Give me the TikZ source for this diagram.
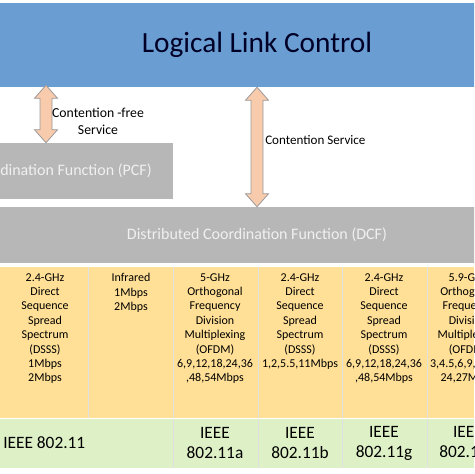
\documentclass[tikz,border=0pt]{standalone}
\usepackage{fontspec}
\setmainfont{Carlito}
\usetikzlibrary{positioning,calc}
\definecolor{llcblue}{RGB}{106,158,211}
\definecolor{cfgray}{RGB}{183,183,183}
\definecolor{phyyellow}{RGB}{255,224,150}
\definecolor{stdgreen}{RGB}{222,240,198}
\definecolor{svcpeach}{RGB}{248,203,173}
% fat double arrow between two named points (top, bottom)
\newcommand{\svcarrow}[2]{%
  \draw[svc] (#1) -- ++(11.5,13) -- ++(-5.5,0) -- ($(#2)+(6,-13)$) -- ++(5.5,0) -- (#2)
    -- ++(-11.5,-13) -- ++(5.5,0) -- ($(#1)+(-6,13)$) -- ++(-5.5,0) -- cycle;}

\begin{document}
\begin{tikzpicture}[x=0.75pt, y=-0.75pt,
          layer/.style={rectangle,inner sep=0pt,minimum height=42pt,fill=cfgray,text=white!94!black,font=\fontsize{12}{14}\selectfont},
          svc/.style={draw=gray!80,fill=svcpeach,line width=0.6pt,line join=miter},
          phy/.style={anchor=north,align=center,inner sep=0pt,font=\fontsize{9}{10.8}\selectfont},
          std/.style={align=center,inner sep=0pt,font=\fontsize{13}{15}\selectfont},
          sep/.style={draw=black!12,line width=0.5pt}]
        \useasboundingbox (0,0) rectangle (474,474);
        \clip (0,0) rectangle (474,474);

        \node[fill=llcblue,minimum width=420pt,minimum height=63pt,inner sep=0pt,text=black!85!blue,font=\fontsize{22}{26}\selectfont] (llc) at (257,45) {Logical Link Control};
        \node[layer,minimum width=196.5pt] (pcf) at (42,171) {Point Coordination Function (PCF)};
        \node[layer,minimum width=420pt] (dcf) at (257,235) {Distributed Coordination Function (DCF)};

        \coordinate (cfx) at (46,0);
        \coordinate (csx) at (257,0);
        \coordinate (cftop) at ($(llc.south -| cfx)+(0,-2)$);
        \coordinate (cfbot) at (pcf.north -| cfx);
        \coordinate (cstop) at (llc.south -| csx);
        \coordinate (csbot) at (dcf.north -| csx);
        \svcarrow{cftop}{cfbot}
        \svcarrow{cstop}{csbot}
        \node[align=center,inner sep=0pt,font=\fontsize{10.3}{12.8}\selectfont] (cfree) at (98,121) {Contention -free\\Service};
        \node[anchor=west,inner sep=0pt,font=\fontsize{9.8}{12}\selectfont] (csvc) at (265,140) {Contention Service};

        % physical layers
        \fill[phyyellow] (0,267) rectangle (474,418);
        \node[phy] (dsss) at (45,273) {2.4-GHz\\Direct\\Sequence\\Spread\\Spectrum\\(DSSS)\\1Mbps\\2Mbps};
        \node[phy] (ir) at (131,273) {Infrared\\1Mbps\\2Mbps};
        \node[phy] (ofdma) at (215,273) {5-GHz\\Orthogonal\\Frequency\\Division\\Multiplexing\\(OFDM)\\6,9,12,18,24,36\\,48,54Mbps};
        \node[phy] (dsssb) at (300,273) {2.4-GHz\\Direct\\Sequence\\Spread\\Spectrum\\(DSSS)\\1,2,5.5,11Mbps};
        \node[phy] (dsssg) at (384,273) {2.4-GHz\\Direct\\Sequence\\Spread\\Spectrum\\(DSSS)\\6,9,12,18,24,36\\,48,54Mbps};
        \node[phy] (ofdmp) at (468,273) {5.9-GHz\\Orthogonal\\Frequency\\Division\\Multiplexing\\(OFDM)\\3,4.5,6,9,12,18,\\24,27Mbps};
        \draw[sep] (88,267) -- (88,418) (173,267) -- (173,418) (258,267) -- (258,418)
          (342,267) -- (342,418) (427,267) -- (427,418);

        % standards
        \fill[stdgreen] (0,419) rectangle (474,468);
        \node[std,anchor=west] (ieee) at (3,443) {IEEE 802.11};
        \node[std] (ieeea) at (215,443) {IEEE\\802.11a};
        \node[std] (ieeeb) at (300,443) {IEEE\\802.11b};
        \node[std] (ieeeg) at (384,443) {IEEE\\802.11g};
        \node[std] (ieeep) at (468,443) {IEEE\\802.11p};
        \draw[sep] (173,419) -- (173,468) (258,419) -- (258,468) (342,419) -- (342,468) (427,419) -- (427,468);
      \end{tikzpicture}
\end{document}
